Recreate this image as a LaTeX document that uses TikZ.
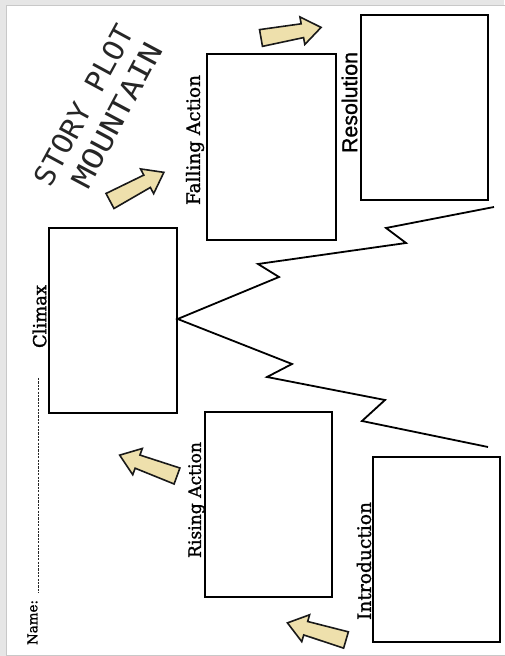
\documentclass[tikz,border=0pt]{standalone}
\usepackage{fontspec}
\usepackage{graphicx}
\newfontfamily\labelserif[FakeBold=1.3]{DejaVu Serif}
\newfontfamily\labelsans[FakeBold=1.0]{Liberation Sans}
\newfontfamily\titlefont{DejaVu Sans Mono}
\definecolor{arrowfill}{RGB}{238,224,172}
\definecolor{pagegray}{RGB}{230,230,230}
\definecolor{edgegray}{RGB}{200,200,200}
\newcommand\bigarrow[4]{%
  \begin{scope}[shift={(#2,#3)},rotate=#4]
    \filldraw[arrowshape] (0,-8.5) -- (42,-7) -- (42,-14) -- (61,0) -- (42,14) -- (42,7) -- (0,8.5) -- cycle;
    \coordinate (#1) at (30,0);
  \end{scope}}
\begin{document}
\begin{tikzpicture}[x=1pt,y=1pt,
  storybox/.style={draw=black,line width=1.3pt,inner sep=0pt,fill=white},
  lbl/.style={inner sep=0pt,rotate=90,text=black},
  arrowshape/.style={fill=arrowfill,draw=black!90,line width=1.6pt,line join=miter},
  mountain/.style={draw=black,line width=1.8pt,line join=miter},
  titletext/.style={inner sep=0pt,anchor=base,text=black!85}]
\useasboundingbox (0,0) rectangle (504,656);
\fill[pagegray] (0,0) rectangle (504,656);
\filldraw[fill=white,draw=edgegray,line width=0.8pt] (6.5,1) rectangle (506,651);

% boxes
\node[storybox,minimum width=128pt,minimum height=185pt] (climax) at (113,335.5) {};
\node[storybox,minimum width=129pt,minimum height=186pt] (falling) at (271.5,509) {};
\node[storybox,minimum width=127pt,minimum height=185pt] (resolution) at (424.5,548.5) {};
\node[storybox,minimum width=127pt,minimum height=185pt] (rising) at (268.5,151.5) {};
\node[storybox,minimum width=127pt,minimum height=185pt] (intro) at (436.5,106.5) {};

% labels
\node[lbl] (fallinglbl) at (195,516) {\resizebox{130pt}{!}{\labelserif Falling Action}};
\node[lbl] (resolutionlbl) at (349.5,553.5) {\resizebox{101pt}{!}{\labelsans Resolution}};
\node[lbl] (climaxlbl) at (39.5,339.5) {\resizebox{63pt}{!}{\labelserif Climax}};
\node[lbl] (risinglbl) at (196.5,156) {\resizebox{116pt}{!}{\labelserif Rising Action}};
\node[lbl] (introlbl) at (364,95) {\resizebox{118pt}{!}{\labelserif Introduction}};
\node[lbl] (namelbl) at (32.5,33.5) {\resizebox{45pt}{!}{\labelserif Name:}};

% name line
\coordinate (nametop) at (38,278);
\coordinate (namebot) at (38,63);
\draw[black!85,line width=0.9pt,dash pattern=on 2.2pt off 1.2pt] (nametop) -- (namebot);

% title
\node[titletext,rotate=61.5] (title1) at (93,546) {\resizebox{178pt}{21pt}{\titlefont STORY PLOT}};
\node[titletext,rotate=62] (title2) at (126,536) {\resizebox{160pt}{21pt}{\titlefont MOUNTAIN}};

% mountain line
\coordinate (m1) at (494,449);
\coordinate (m2) at (386,428);
\coordinate (m3) at (406,413);
\coordinate (m4) at (258,392);
\coordinate (m5) at (279,379);
\coordinate (m7) at (292,292);
\coordinate (m8) at (267,279);
\coordinate (m9) at (385,256);
\coordinate (m10) at (362,235);
\coordinate (m11) at (488,209);
\draw[mountain] (m1) -- (m2) -- (m3) -- (m4) -- (m5) -- ([yshift=1.5pt]climax.east) -- (m7) -- (m8) -- (m9) -- (m10) -- (m11);

% arrows
\bigarrow{arrowA}{110}{455}{28}
\bigarrow{arrowB}{261}{618}{10}
\bigarrow{arrowC}{177}{180}{160}
\bigarrow{arrowD}{346}{16}{163.7}
\end{tikzpicture}
\end{document}
